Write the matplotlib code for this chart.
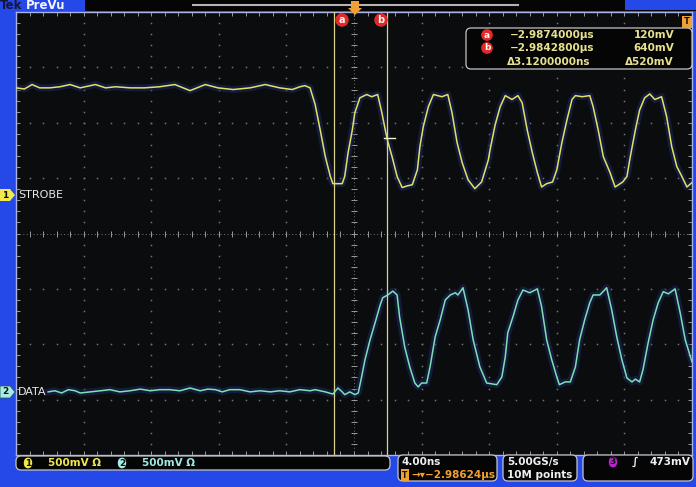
import numpy as np
import matplotlib.pyplot as plt
from matplotlib.patches import FancyBboxPatch, Polygon, Rectangle
from matplotlib.transforms import IdentityTransform

W, H = 696, 487

# scope settings: 4 ns/div, 500 mV/div, 10 x 8 divisions
ns_per_div = 4.0
mv_per_div = 500.0
ch1_pos_div = 0.70
ch2_pos_div = -2.86

trigger_us = -2.98624
cursor_a_us = -2.9874000
cursor_b_us = -2.9842800
cursor_a_mv = 120
cursor_b_mv = 640
trigger_level_mv = 473

# channel 1 (STROBE), time in ns relative to trigger, level in mV
strobe_t = [-20.0, -19.5, -19.05, -18.6, -18.0, -17.4, -16.8, -16.2, -15.3, -14.7,
            -14.1, -13.25, -12.4, -11.5, -10.6, -9.7, -8.8, -8.05, -7.15, -6.15,
            -5.25, -4.4, -3.65, -3.2, -2.9, -2.6, -2.3, -2.0, -1.7, -1.4,
            -1.25, -0.7, -0.55, -0.35, -0.1, 0.05, 0.35, 0.75, 1.05, 1.4,
            1.65, 1.85, 2.0, 2.25, 2.55, 2.85, 3.15, 3.45, 3.75, 3.9,
            4.1, 4.4, 4.7, 5.2, 5.55, 5.8, 6.1, 6.4, 6.75, 7.15,
            7.55, 7.95, 8.05, 8.35, 8.65, 8.95, 9.35, 9.7, 9.95, 10.25,
            10.55, 10.85, 11.1, 11.4, 11.75, 12.0, 12.3, 12.6, 12.9, 13.1,
            13.5, 13.95, 14.15, 14.45, 14.75, 15.15, 15.45, 15.9, 16.15, 16.35,
            16.65, 16.9, 17.2, 17.5, 17.8, 18.2, 18.5, 18.8, 19.1, 19.4,
            19.7, 20.0]
strobe_mv = [965, 955, 995, 965, 965, 975, 995, 965, 995, 965,
             975, 965, 965, 975, 995, 940, 995, 965, 950, 965,
             995, 965, 950, 975, 985, 965, 815, 585, 345, 165,
             100, 100, 165, 380, 585, 740, 875, 905, 885, 905,
             740, 585, 480, 345, 165, 65, 80, 90, 225, 435,
             615, 795, 905, 885, 905, 740, 470, 290, 135, 55,
             115, 315, 405, 630, 795, 895, 860, 895, 830, 585,
             380, 200, 70, 100, 115, 225, 470, 675, 860, 895,
             885, 895, 795, 585, 345, 200, 70, 115, 165, 345,
             585, 765, 875, 910, 860, 885, 705, 435, 255, 165,
             70, 110]

# channel 2 (DATA)
data_t = [-18.1, -17.7, -17.3, -16.9, -16.5, -16.2, -15.6, -15.0, -14.45, -13.85,
          -13.25, -12.65, -12.05, -11.5, -10.9, -10.3, -9.7, -9.1, -8.65, -8.2,
          -7.8, -7.35, -6.75, -6.15, -5.55, -4.95, -4.4, -3.8, -3.2, -2.6,
          -2.3, -1.7, -1.25, -0.95, -0.7, -0.55, -0.25, 0.05, 0.25, 0.45,
          0.65, 0.95, 1.25, 1.55, 1.7, 2.0, 2.3, 2.55, 2.7, 3.0,
          3.3, 3.6, 3.8, 4.0, 4.3, 4.5, 4.8, 5.1, 5.4, 5.7,
          6.0, 6.15, 6.45, 6.75, 7.05, 7.45, 7.85, 8.45, 8.75, 8.95,
          9.1, 9.4, 9.7, 10.0, 10.4, 10.85, 11.1, 11.4, 11.7, 12.0,
          12.15, 12.5, 12.8, 13.1, 13.35, 13.65, 13.95, 14.15, 14.55, 14.95,
          15.25, 15.55, 15.85, 16.15, 16.45, 16.65, 16.9, 17.1, 17.4, 17.7,
          18.0, 18.3, 18.6, 19.0, 19.3, 19.6, 20.0]
data_mv = [0, 10, -10, 20, 10, -10, 0, 10, 20, 0,
           10, 25, 10, 20, 20, 10, 35, 10, 25, 20,
           0, 20, 20, 0, 10, 0, 10, 0, 20, 10,
           20, 0, -20, 35, 0, -25, 0, -25, -10, 135,
           290, 470, 625, 785, 850, 875, 910, 875, 675, 405,
           225, 80, 45, 80, 80, 225, 495, 650, 830, 875,
           895, 875, 940, 740, 470, 225, 80, 65, 135, 315,
           535, 675, 830, 920, 895, 930, 770, 470, 290, 135,
           65, 90, 90, 225, 470, 650, 805, 875, 875, 940,
           740, 495, 290, 125, 90, 115, 90, 200, 440, 650,
           805, 905, 885, 930, 715, 470, 270]

BLUE = "#2548e8"
SCREEN = "#0a0c0e"
GRID = "#747474"
YEL = "#e6df62"
CYAN = "#80e0b0"
ORANGE = "#f0a030"
CUR = "#d9d38f"

fig = plt.figure(figsize=(W / 100, H / 100), dpi=100, facecolor=BLUE)
PX = IdentityTransform()


def py(y):
    return H - y


def rbox(x0, y0, x1, y1, fc="#050505", ec="#c4c4c4", r=5, z=6, lw=0.9):
    p = FancyBboxPatch((x0, py(y1)), x1 - x0, y1 - y0,
                       boxstyle=f"round,pad=0,rounding_size={r}",
                       fc=fc, ec=ec, lw=lw, transform=PX, zorder=z)
    fig.add_artist(p)


def ptext(x, y, s, color="#f0f0f0", size=7.5, ha="left", weight="bold", z=8, **kw):
    fig.text(x, py(y), s, color=color, fontsize=size, ha=ha, va="center",
             fontweight=weight, transform=PX, zorder=z, **kw)


def badge(x, y, s, fc, color="#101010", size=6.5, style="round,pad=0.25"):
    fig.text(x, py(y), s, color=color, fontsize=size, ha="center", va="center",
             fontweight="bold", transform=PX, zorder=9,
             bbox=dict(boxstyle=style, fc=fc, ec="none"))


# graticule
ax = fig.add_axes([16 / W, (H - 455) / H, 676 / W, 443 / H])
ax.set_facecolor(SCREEN)
ax.set_xlim(-5 * ns_per_div, 5 * ns_per_div)
ax.set_ylim(-4, 4)
for s in ax.spines.values():
    s.set_color("#a9b2e4")
    s.set_linewidth(1.0)
ax.set_xticks(np.arange(-20, 20.01, 0.8))
ax.set_yticks(np.arange(-4, 4.01, 0.2))
ax.tick_params(direction="in", length=3, width=0.7, color="#9a9a9a",
               top=True, right=True, labelbottom=False, labelleft=False)

sub_y = np.arange(-4, 4.01, 0.2)
sub_x = np.arange(-20, 20.01, 0.8)
for gx in np.arange(-16, 17, 4):
    if gx == 0:
        continue
    ax.plot(np.full_like(sub_y, gx), sub_y, ls="none", marker="s", ms=1.1,
            mew=0, color=GRID)
for gy in range(-3, 4):
    if gy == 0:
        continue
    ax.plot(sub_x, np.full_like(sub_x, gy), ls="none", marker="s", ms=1.1,
            mew=0, color=GRID)
ax.axhline(0, color=GRID, lw=0.7, ls=(0, (1, 2.5)))
ax.axvline(0, color=GRID, lw=0.7, ls=(0, (1, 2.5)))
ax.plot(sub_x, np.zeros_like(sub_x), ls="none", marker="|", ms=4, mew=0.7, color="#9a9a9a")
ax.plot(np.zeros_like(sub_y), sub_y, ls="none", marker="_", ms=4, mew=0.7, color="#9a9a9a")

# cursors
ta = (cursor_a_us - trigger_us) * 1000
tb = (cursor_b_us - trigger_us) * 1000
ax.axvline(ta, color=CUR, lw=0.9, zorder=4)
ax.axvline(tb, color=CUR, lw=0.9, zorder=4)

# traces
s_y = ch1_pos_div + np.array(strobe_mv) / mv_per_div
d_y = ch2_pos_div + np.array(data_mv) / mv_per_div
for t, y, c in [(strobe_t, s_y, YEL), (data_t, d_y, CYAN)]:
    ax.plot(t, y, color="#1c2b68", lw=5, alpha=0.5, zorder=2)
    ax.plot(t, y, color=c, lw=1.1, zorder=5)

yb = np.interp(tb, strobe_t, s_y)
ax.plot([tb - 0.2, tb + 0.45], [yb, yb], color="#f0f0d0", lw=1, zorder=6)

# top bar
fig.add_artist(Rectangle((0, py(11)), W, 11, fc="#050505", ec="none", transform=PX, zorder=2))
fig.add_artist(Rectangle((0, py(11)), 85, 11, fc=BLUE, ec="none", transform=PX, zorder=3))
fig.add_artist(Rectangle((625, py(10)), W - 625, 10, fc=BLUE, ec="none", transform=PX, zorder=3))
fig.add_artist(plt.Line2D([193, 518], [py(5), py(5)], color="#b4b4b4", lw=1.5, transform=PX, zorder=3))
ptext(0, 5.5, "Tek", color="#15163a", size=8.5, z=8)
ptext(26, 5.5, "PreVu", color="#f4f4ff", size=8.5, z=8)
fig.add_artist(Polygon([(351, py(1)), (359, py(1)), (359, py(8)), (362, py(8)),
                        (355, py(15)), (348, py(8)), (351, py(8))],
                       closed=True, fc=ORANGE, ec="none", transform=PX, zorder=9))
badge(687, 22, "T", ORANGE, size=6, style="square,pad=0.2")

# cursor labels
badge(342, 20, "a", "#e02a2a", color="#f8f8f8", size=7, style="circle,pad=0.18")
badge(381, 20, "b", "#e02a2a", color="#f8f8f8", size=7, style="circle,pad=0.18")

# channel tags
fig.add_artist(Polygon([(0, py(189)), (10, py(189)), (15, py(195)), (10, py(201)), (0, py(201))],
                       closed=True, fc="#f2e84a", ec="none", transform=PX, zorder=9))
ptext(5, 195, "1", color="#111111", size=6.5, ha="center", z=10)
ptext(18, 195, "STROBE", color="#e8e8e8", size=8, weight="normal", z=10)
fig.add_artist(Polygon([(0, py(386)), (10, py(386)), (15, py(392)), (10, py(398)), (0, py(398))],
                       closed=True, fc="#a8ece6", ec="#2a6060", lw=0.6, transform=PX, zorder=9))
ptext(5, 392, "2", color="#111111", size=6.5, ha="center", z=10)
ptext(18, 392, "DATA", color="#e8e8e8", size=8, weight="normal", z=10)

# cursor readout
RD = "#e8e290"
rbox(466, 28, 692, 69, z=6)
badge(487, 35, "a", "#e02a2a", color="#f8f8f8", size=6.5, style="circle,pad=0.15")
badge(487, 48, "b", "#e02a2a", color="#f8f8f8", size=6.5, style="circle,pad=0.15")
ptext(510, 35, f"\u2212{abs(cursor_a_us):.7f}\u00b5s", color=RD, size=7.5)
ptext(510, 48, f"\u2212{abs(cursor_b_us):.7f}\u00b5s", color=RD, size=7.5)
ptext(507, 62, f"\u0394{tb - ta:.7f}ns", color=RD, size=7.5)
ptext(674, 35, f"{cursor_a_mv}mV", color=RD, size=7.5, ha="right")
ptext(674, 48, f"{cursor_b_mv}mV", color=RD, size=7.5, ha="right")
ptext(674, 62, f"\u0394{cursor_b_mv - cursor_a_mv}mV", color=RD, size=7.5, ha="right")

# status bar
rbox(16, 456, 390, 470, z=3)
badge(28, 463, "1", "#f2e84a", size=6.5, style="round,pad=0.12,rounding_size=0.6")
ptext(48, 463, f"{mv_per_div:.0f}mV \u03a9", color="#f0e650")
badge(122, 463, "2", "#a8ece6", size=6.5, style="round,pad=0.12,rounding_size=0.6")
ptext(142, 463, f"{mv_per_div:.0f}mV \u03a9", color="#9fe8e4")

rbox(398, 455, 497, 481, z=3)
ptext(402, 462, f"{ns_per_div:.2f}ns")
badge(405, 475, "T", ORANGE, size=5.5, style="square,pad=0.15")
ptext(411, 475, f"\u2192\u25be\u2212{abs(trigger_us):.5f}\u00b5s", color=ORANGE)

rbox(503, 455, 577, 481, z=3)
ptext(507, 462, "5.00GS/s")
ptext(507, 475, "10M points")

rbox(583, 455, 693, 481, z=3)
badge(613, 462, "3", "#c020d0", size=6.5, style="round,pad=0.12,rounding_size=0.6")
ptext(632, 462, "\u222b", size=8)
ptext(650, 462, f"{trigger_level_mv}mV")

fig.savefig("out.png", dpi=100, facecolor=BLUE)
